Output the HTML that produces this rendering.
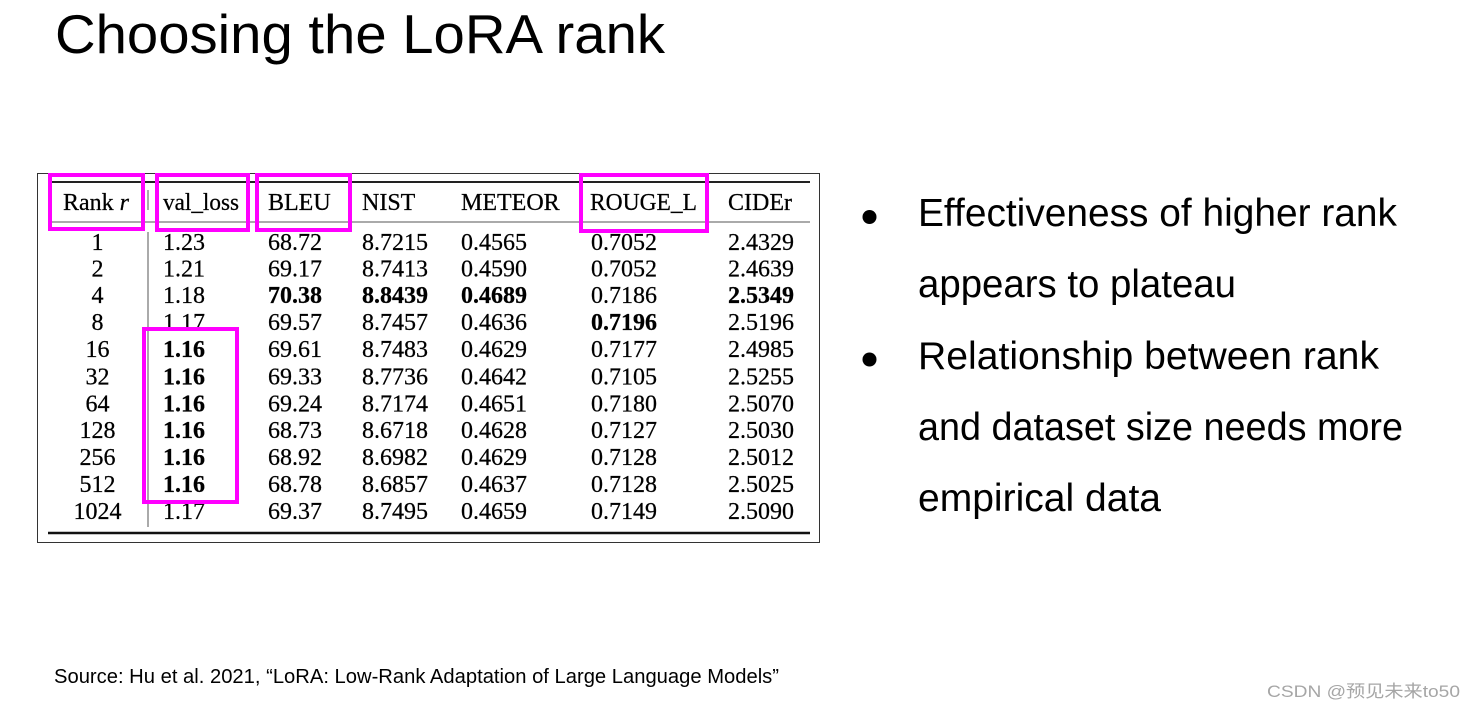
<!DOCTYPE html>
<html>
<head>
<meta charset="utf-8">
<style>
  html, body { margin:0; padding:0; background:#ffffff; }
  body { width:1476px; height:710px; overflow:hidden; }
  svg { display:block; }
  .sans { font-family: "Liberation Sans", "Noto Sans CJK SC", sans-serif; }
  .serif { font-family: "Liberation Serif", serif; font-size:24px; fill:#000; stroke:#000; stroke-width:0.25; }
  .b { font-weight:bold; }
</style>
</head>
<body>
<svg width="1476" height="710" viewBox="0 0 1476 710" xmlns="http://www.w3.org/2000/svg">
  <rect x="0" y="0" width="1476" height="710" fill="#ffffff"/>

  <!-- Title -->
  <text class="sans" x="55" y="53" font-size="55" fill="#000" textLength="610" lengthAdjust="spacingAndGlyphs">Choosing the LoRA rank</text>

  <!-- Table outer frame -->
  <rect x="37.5" y="173.5" width="782" height="369" fill="none" stroke="#333" stroke-width="1"/>

  <!-- rules -->
  <line x1="48" y1="182" x2="810" y2="182" stroke="#222" stroke-width="2"/>
  <line x1="48" y1="222" x2="810" y2="222" stroke="#555" stroke-width="1"/>
  <line x1="48" y1="533" x2="810" y2="533" stroke="#111" stroke-width="2.5"/>
  <!-- vertical separator -->
  <line x1="148" y1="190" x2="148" y2="210" stroke="#555" stroke-width="1"/>
  <line x1="148" y1="232" x2="148" y2="527" stroke="#555" stroke-width="1"/>

  <!-- Header -->
  <g class="serif">
    <text x="63" y="210">Rank <tspan font-style="italic">r</tspan></text>
    <text x="163" y="210" textLength="76" lengthAdjust="spacingAndGlyphs">val_loss</text>
    <text x="268" y="210">BLEU</text>
    <text x="362" y="210">NIST</text>
    <text x="461" y="210">METEOR</text>
    <text x="590" y="210" textLength="107" lengthAdjust="spacingAndGlyphs">ROUGE_L</text>
    <text x="728" y="210">CIDEr</text>
  </g>

  <!-- Body -->
  <g class="serif">
    <g text-anchor="middle">
      <text x="97.5" y="250">1</text>
      <text x="97.5" y="276.5">2</text>
      <text x="97.5" y="303">4</text>
      <text x="97.5" y="330">8</text>
      <text x="97.5" y="357">16</text>
      <text x="97.5" y="384.5">32</text>
      <text x="97.5" y="411.5">64</text>
      <text x="97.5" y="438">128</text>
      <text x="97.5" y="465">256</text>
      <text x="97.5" y="492">512</text>
      <text x="97.5" y="519">1024</text>
    </g>
    <text x="163" y="250">1.23</text>
    <text x="163" y="276.5">1.21</text>
    <text x="163" y="303">1.18</text>
    <text x="163" y="330">1.17</text>
    <text x="163" y="357" class="b">1.16</text>
    <text x="163" y="384.5" class="b">1.16</text>
    <text x="163" y="411.5" class="b">1.16</text>
    <text x="163" y="438" class="b">1.16</text>
    <text x="163" y="465" class="b">1.16</text>
    <text x="163" y="492" class="b">1.16</text>
    <text x="163" y="519">1.17</text>

    <text x="268" y="250">68.72</text>
    <text x="268" y="276.5">69.17</text>
    <text x="268" y="303" class="b">70.38</text>
    <text x="268" y="330">69.57</text>
    <text x="268" y="357">69.61</text>
    <text x="268" y="384.5">69.33</text>
    <text x="268" y="411.5">69.24</text>
    <text x="268" y="438">68.73</text>
    <text x="268" y="465">68.92</text>
    <text x="268" y="492">68.78</text>
    <text x="268" y="519">69.37</text>

    <text x="362" y="250">8.7215</text>
    <text x="362" y="276.5">8.7413</text>
    <text x="362" y="303" class="b">8.8439</text>
    <text x="362" y="330">8.7457</text>
    <text x="362" y="357">8.7483</text>
    <text x="362" y="384.5">8.7736</text>
    <text x="362" y="411.5">8.7174</text>
    <text x="362" y="438">8.6718</text>
    <text x="362" y="465">8.6982</text>
    <text x="362" y="492">8.6857</text>
    <text x="362" y="519">8.7495</text>

    <text x="461" y="250">0.4565</text>
    <text x="461" y="276.5">0.4590</text>
    <text x="461" y="303" class="b">0.4689</text>
    <text x="461" y="330">0.4636</text>
    <text x="461" y="357">0.4629</text>
    <text x="461" y="384.5">0.4642</text>
    <text x="461" y="411.5">0.4651</text>
    <text x="461" y="438">0.4628</text>
    <text x="461" y="465">0.4629</text>
    <text x="461" y="492">0.4637</text>
    <text x="461" y="519">0.4659</text>

    <text x="591" y="250">0.7052</text>
    <text x="591" y="276.5">0.7052</text>
    <text x="591" y="303">0.7186</text>
    <text x="591" y="330" class="b">0.7196</text>
    <text x="591" y="357">0.7177</text>
    <text x="591" y="384.5">0.7105</text>
    <text x="591" y="411.5">0.7180</text>
    <text x="591" y="438">0.7127</text>
    <text x="591" y="465">0.7128</text>
    <text x="591" y="492">0.7128</text>
    <text x="591" y="519">0.7149</text>

    <text x="728" y="250">2.4329</text>
    <text x="728" y="276.5">2.4639</text>
    <text x="728" y="303" class="b">2.5349</text>
    <text x="728" y="330">2.5196</text>
    <text x="728" y="357">2.4985</text>
    <text x="728" y="384.5">2.5255</text>
    <text x="728" y="411.5">2.5070</text>
    <text x="728" y="438">2.5030</text>
    <text x="728" y="465">2.5012</text>
    <text x="728" y="492">2.5025</text>
    <text x="728" y="519">2.5090</text>
  </g>

  <!-- Magenta highlight boxes -->
  <g fill="none" stroke="#ff00ff" stroke-width="4">
    <rect x="50" y="175" width="93" height="54"/>
    <rect x="157" y="175" width="91" height="55"/>
    <rect x="257" y="175" width="93" height="55"/>
    <rect x="581" y="175" width="126" height="56"/>
    <rect x="144" y="329" width="93" height="173"/>
  </g>

  <!-- Bullets -->
  <circle cx="869.5" cy="217" r="7" fill="#000"/>
  <circle cx="869.5" cy="359.5" r="7" fill="#000"/>
  <g class="sans" font-size="39" fill="#000">
    <text x="918" y="226" textLength="479" lengthAdjust="spacingAndGlyphs">Effectiveness of higher rank</text>
    <text x="918" y="297" textLength="318" lengthAdjust="spacingAndGlyphs">appears to plateau</text>
    <text x="918" y="369" textLength="461" lengthAdjust="spacingAndGlyphs">Relationship between rank</text>
    <text x="918" y="440" textLength="485" lengthAdjust="spacingAndGlyphs">and dataset size needs more</text>
    <text x="918" y="511" textLength="243" lengthAdjust="spacingAndGlyphs">empirical data</text>
  </g>

  <!-- Source -->
  <text class="sans" x="54" y="683" font-size="20" fill="#000" textLength="725" lengthAdjust="spacingAndGlyphs">Source:  Hu et al. 2021, “LoRA: Low-Rank Adaptation of Large Language Models”</text>

  <!-- Watermark -->
  <text class="sans" x="1267" y="697" font-size="17" fill="#a6a6a6" textLength="193" lengthAdjust="spacingAndGlyphs">CSDN @预见未来to50</text>
</svg>
</body>
</html>
